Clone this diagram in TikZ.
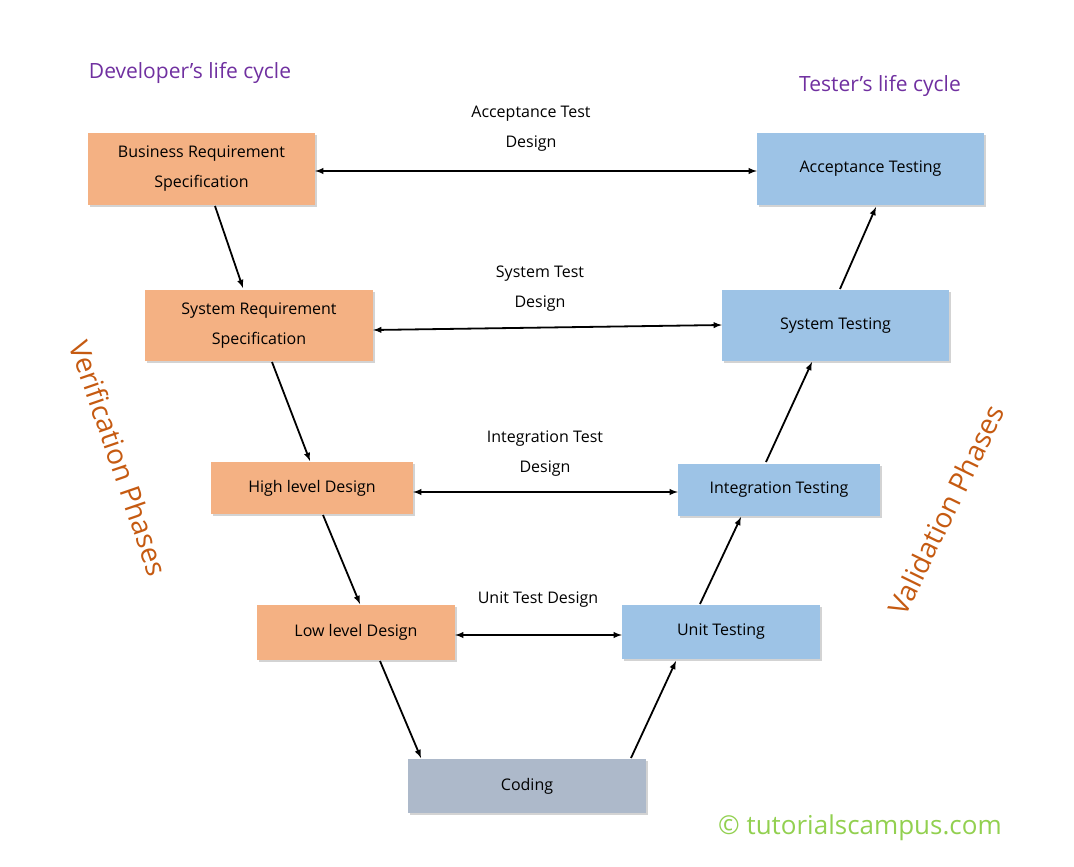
\documentclass[tikz,border=0pt]{standalone}
\usepackage{fontspec}
\setmainfont{Open Sans}
\usetikzlibrary{shadows}
\definecolor{dev}{HTML}{F4B183}
\definecolor{tst}{HTML}{9DC3E6}
\definecolor{cod}{HTML}{ADB9CA}
\definecolor{purp}{HTML}{7030A0}
\definecolor{brn}{HTML}{C55A11}
\definecolor{grn}{HTML}{92D050}
\begin{document}
\begin{tikzpicture}[x=1pt,y=-1pt,
  box/.style={draw=none,minimum width=#1,align=center,font=\fontsize{16}{30}\selectfont,inner sep=0pt,drop shadow={shadow xshift=2pt,shadow yshift=-2pt,opacity=0.35}},
  arr/.style={-latex,line width=1.8pt},
  darr/.style={latex-latex,line width=1.8pt},
  lab/.style={align=center,font=\fontsize{16}{30}\selectfont}]
\useasboundingbox (0,0) rectangle (1074,867);
\node[box=227pt,fill=dev,minimum height=72pt] (brs) at (201.5,169) {Business Requirement\\Specification};
\node[box=228pt,fill=dev,minimum height=71pt] (srs) at (259,325.5) {System Requirement\\Specification};
\node[box=202pt,fill=dev,minimum height=52pt] (hld) at (312,488) {High level Design};
\node[box=198pt,fill=dev,minimum height=55pt] (lld) at (356,632.5) {Low level Design};
\node[box=238pt,fill=cod,minimum height=54pt] (cod) at (527,786) {Coding};
\node[box=227pt,fill=tst,minimum height=72pt] (at) at (870.5,169) {Acceptance Testing};
\node[box=227pt,fill=tst,minimum height=71pt] (st) at (835.5,325.5) {System Testing};
\node[box=202pt,fill=tst,minimum height=52pt] (it) at (779,490) {Integration Testing};
\node[box=198pt,fill=tst,minimum height=54pt] (ut) at (721,632) {Unit Testing};
\coordinate (a1) at (215,206); \coordinate (a2) at (243,288);
\coordinate (b1) at (272,362); \coordinate (b2) at (310,461);
\coordinate (c1) at (323,515); \coordinate (c2) at (360,604);
\coordinate (d1) at (380,661); \coordinate (d2) at (421,758);
\coordinate (e1) at (631,758); \coordinate (e2) at (676,661);
\coordinate (f1) at (700,604); \coordinate (f2) at (741,517);
\coordinate (g1) at (766,462); \coordinate (g2) at (812,362);
\coordinate (h1) at (840,289); \coordinate (h2) at (876,207);
\draw[arr] (a1)--(a2); \draw[arr] (b1)--(b2); \draw[arr] (c1)--(c2); \draw[arr] (d1)--(d2);
\draw[arr] (e1)--(e2); \draw[arr] (f1)--(f2); \draw[arr] (g1)--(g2); \draw[arr] (h1)--(h2);
\draw[darr] (brs.east|-0,171) -- (at.west|-0,171);
\draw[darr] (srs.east|-0,330) -- (st.west|-0,325);
\draw[darr] (hld.east|-0,492) -- (it.west|-0,492);
\draw[darr] (lld.east|-0,635) -- (ut.west|-0,635);
\node[lab] (l1) at (531,129) {Acceptance Test\\Design};
\node[lab] (l2) at (540,289) {System Test\\Design};
\node[lab] (l3) at (545,454) {Integration Test\\Design};
\node[lab] (l4) at (538,600) {Unit Test Design};
\node[text=purp,font=\fontsize{21}{25}\selectfont] (dl) at (190,73) {Developer’s life cycle};
\node[text=purp,font=\fontsize{21}{25}\selectfont] (tl) at (880,86) {Tester’s life cycle};
\node[text=brn,font=\fontsize{28}{32}\selectfont,rotate=-71] (vp) at (119,458) {Verification Phases};
\node[text=brn,font=\fontsize{28}{32}\selectfont,rotate=64] (vap) at (946,510) {Validation Phases};
\node[text=grn,font=\fontsize{26}{30}\selectfont] (wm) at (860,828) {© tutorialscampus.com};
\end{tikzpicture}
\end{document}
